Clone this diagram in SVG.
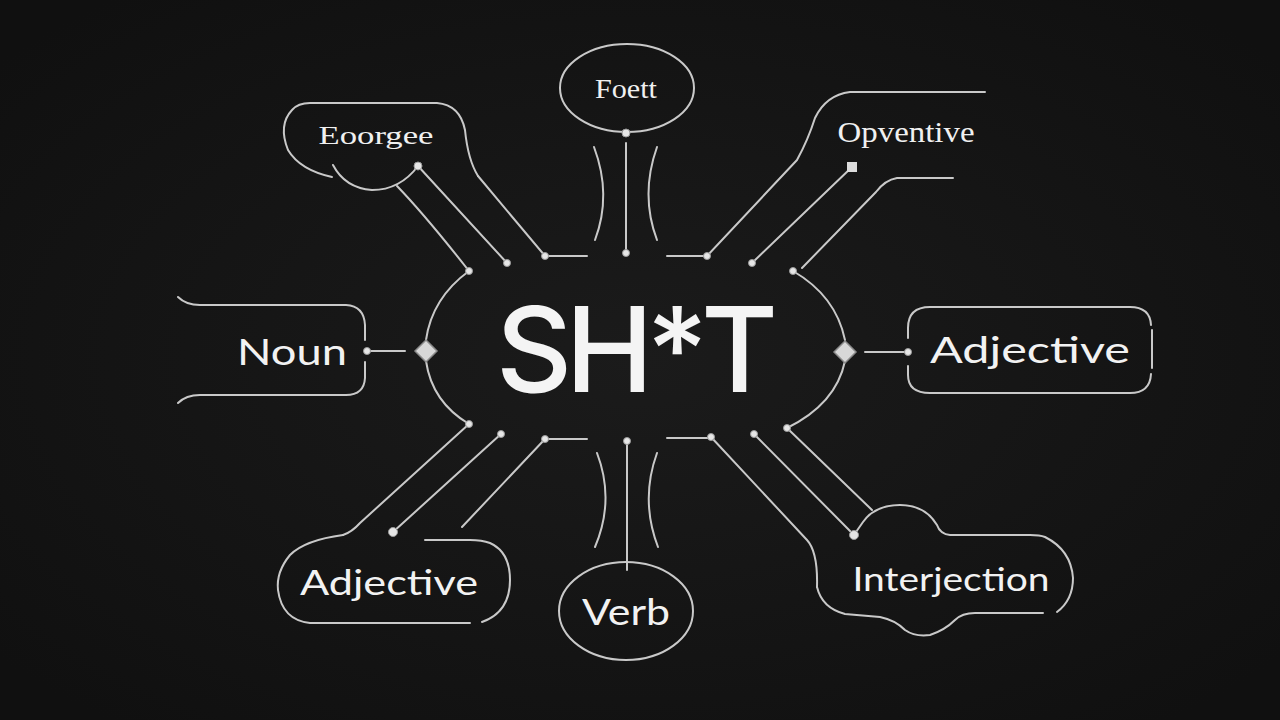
<svg xmlns="http://www.w3.org/2000/svg" width="1280" height="720" viewBox="0 0 1280 720">
<defs>
<radialGradient id="bg" cx="50%" cy="50%" r="65%">
<stop offset="0" stop-color="#1b1b1b"/>
<stop offset="1" stop-color="#101010"/>
</radialGradient>
<style>
.ln{fill:none;stroke:#c9c9c9;stroke-width:2;stroke-linecap:round;stroke-linejoin:round}
.dot{fill:#e6e6e6;stroke:#9a9a9a;stroke-width:1}
.dm{fill:#d8d8d8;stroke:#8a8a8a;stroke-width:1.5}
.sans{font-family:Lato,"Open Sans","Liberation Sans",sans-serif;fill:#f2f2f2}
.serif{font-family:"Liberation Serif","DejaVu Serif",serif;fill:#f0f0f0}
.big{font-family:Inter,Lato,"Liberation Sans",sans-serif;font-weight:500;fill:#f4f4f4}
</style>
</defs>
<rect width="1280" height="720" fill="url(#bg)"/>

<g id="connectors">
<!-- central capsule arcs -->
<path class="ln" d="M469,271 Q432,298 426,340"/>
<path class="ln" d="M426,361 Q432,402 469,424"/>
<path class="ln" d="M793,271 Q836,296 845,340"/>
<path class="ln" d="M845,361 Q836,404 787,428"/>
<!-- short horizontals -->
<path class="ln" d="M545,256 H587"/>
<path class="ln" d="M667,256 H707"/>
<path class="ln" d="M545,439 H587"/>
<path class="ln" d="M667,438 H711"/>
<!-- Eoorgee connectors -->
<path class="ln" d="M397,186 Q425,215 469,271"/>
<path class="ln" d="M418,166 L507,263"/>
<path class="ln" d="M478,176 L545,256"/>
<!-- Foett connectors -->
<path class="ln" d="M626,143 V253"/>
<path class="ln" d="M594,147 Q612,195 595,240"/>
<path class="ln" d="M657,147 Q640,195 657,240"/>
<!-- Opventive connectors -->
<path class="ln" d="M985,92 H850 Q826,95 815,118 Q808,140 797,160 L707,256"/>
<path class="ln" d="M852,167 L752,263"/>
<path class="ln" d="M953,178 H897 Q885,180 876,192 L802,268"/>
<!-- Noun -->
<path class="ln" d="M367,351 H405"/>
<!-- right Adjective -->
<path class="ln" d="M865,352 H908"/>
<!-- bottom-left Adjective connectors -->
<path class="ln" d="M469,424 L360,523 Q352,532 343,535"/>
<path class="ln" d="M501,434 L393,532"/>
<path class="ln" d="M545,439 L462,527"/>
<!-- Verb -->
<path class="ln" d="M627,441 V570"/>
<path class="ln" d="M597,453 Q615,500 595,547"/>
<path class="ln" d="M657,453 Q640,500 658,547"/>
<!-- Interjection connectors -->
<path class="ln" d="M711,437 L807,540 Q818,552 817,587"/>
<path class="ln" d="M754,434 L854,535"/>
<path class="ln" d="M787,428 L872,510"/>
</g>

<g id="center">
<text class="big" x="637" y="392" font-size="118" text-anchor="middle" textLength="282" lengthAdjust="spacing">SH*T</text>
<g>
<circle class="dot" cx="469" cy="271" r="3.5"/>
<circle class="dot" cx="507" cy="263" r="3.5"/>
<circle class="dot" cx="545" cy="256" r="3.5"/>
<circle class="dot" cx="626" cy="253" r="3.5"/>
<circle class="dot" cx="707" cy="256" r="3.5"/>
<circle class="dot" cx="752" cy="263" r="3.5"/>
<circle class="dot" cx="793" cy="271" r="3.5"/>
<circle class="dot" cx="469" cy="424" r="3.5"/>
<circle class="dot" cx="501" cy="434" r="3.5"/>
<circle class="dot" cx="545" cy="439" r="3.5"/>
<circle class="dot" cx="627" cy="441" r="3.5"/>
<circle class="dot" cx="711" cy="437" r="3.5"/>
<circle class="dot" cx="754" cy="434" r="3.5"/>
<circle class="dot" cx="787" cy="428" r="3.5"/>
</g>
<path class="dm" d="M426,340 L437,351 L426,362 L415,351 Z"/>
<path class="dm" d="M845,341 L856,352 L845,363 L834,352 Z"/>
</g>

<g id="node-eoorgee">
<path class="ln" d="M332,177 Q300,170 288,150 Q278,125 292,110 Q298,103 310,103 H437 Q460,105 465,130 Q468,160 478,176"/>
<path class="ln" d="M333,165 Q345,188 372,190 Q400,190 418,166"/>
<circle class="dot" cx="418" cy="166" r="4"/>
<text class="serif" x="376" y="144" font-size="26" text-anchor="middle" textLength="115" lengthAdjust="spacingAndGlyphs">Eoorgee</text>
</g>

<g id="node-foett">
<ellipse class="ln" cx="627" cy="88" rx="67" ry="44"/>
<circle class="dot" cx="626" cy="133" r="4"/>
<text class="serif" x="626" y="98" font-size="27" text-anchor="middle" textLength="62" lengthAdjust="spacingAndGlyphs">Foett</text>
</g>

<g id="node-opventive">
<rect x="847" y="162" width="10" height="10" fill="#dcdcdc"/>
<text class="serif" x="906" y="142" font-size="29" text-anchor="middle" textLength="137" lengthAdjust="spacingAndGlyphs">Opventive</text>
</g>

<g id="node-noun">
<path class="ln" d="M178,297 Q186,305 200,305 H346 Q364,306 365,325 V340"/>
<path class="ln" d="M365,362 V378 Q364,395 346,395 H200 Q186,395 178,403"/>
<circle class="dot" cx="367" cy="351" r="3.5"/>
<text class="sans" x="292" y="365" font-size="37" text-anchor="middle" textLength="110" lengthAdjust="spacingAndGlyphs">Noun</text>
</g>

<g id="node-adjective-right">
<path class="ln" d="M908,338 V328 Q908,307 930,307 H1130 Q1150,307 1151,325"/>
<path class="ln" d="M1152,330 V368"/>
<path class="ln" d="M1151,374 Q1150,393 1130,393 H930 Q908,393 908,375 V366"/>
<circle class="dot" cx="908" cy="352" r="3.5"/>
<text class="sans" x="1030" y="363" font-size="37" text-anchor="middle" textLength="200" lengthAdjust="spacingAndGlyphs">Adjective</text>
</g>

<g id="node-adjective-left">
<path class="ln" d="M343,535 Q305,540 290,555 Q276,572 278,590 Q282,620 310,623 H470"/>
<path class="ln" d="M482,622 Q510,612 510,580 Q510,552 490,543 Q482,540 470,540 H425"/>
<circle class="dot" cx="393" cy="532" r="4.5"/>
<text class="sans" x="389" y="595" font-size="35" text-anchor="middle" textLength="178" lengthAdjust="spacingAndGlyphs">Adjective</text>
</g>

<g id="node-verb">
<ellipse class="ln" cx="626" cy="611" rx="67" ry="49"/>
<text class="sans" x="626" y="625" font-size="36" text-anchor="middle" textLength="88" lengthAdjust="spacingAndGlyphs">Verb</text>
</g>

<g id="node-interjection">
<path class="ln" d="M817,587 Q822,608 845,614 L880,617 Q895,620 905,630 Q915,637 930,635 Q945,630 955,620 Q962,613 975,613 H1043"/>
<path class="ln" d="M1057,612 Q1073,600 1073,578 Q1071,550 1045,537 Q1040,535 1030,535 H950 Q940,534 937,525 Q925,505 900,505 Q875,505 863,522 L856,532"/>
<circle class="dot" cx="854" cy="535" r="4.5"/>
<text class="sans" x="951" y="591" font-size="33" text-anchor="middle" textLength="197" lengthAdjust="spacingAndGlyphs">Interjection</text>
</g>
</svg>
